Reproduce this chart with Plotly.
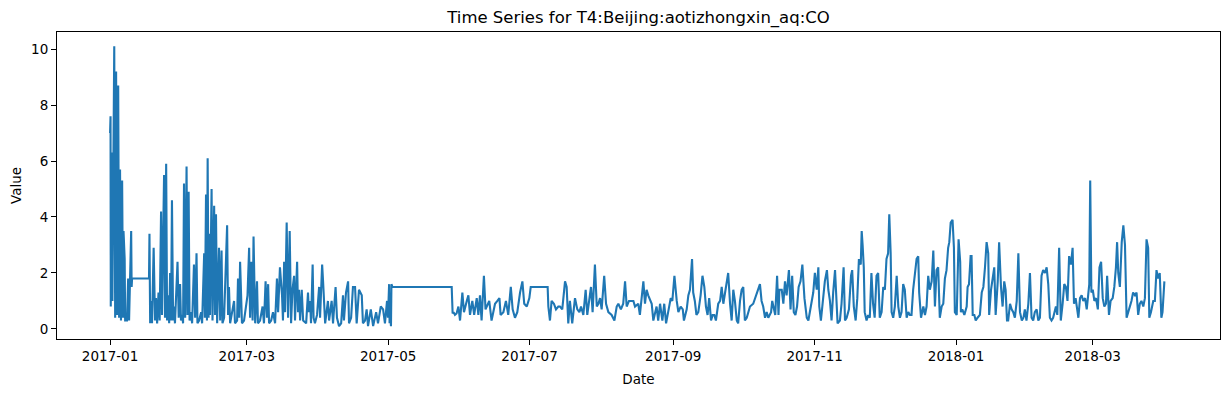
import pandas as pd
import plotly.graph_objects as go

# Hourly CO readings: day offset from 2017-01-01, value
start = pd.Timestamp("2017-01-01")

days_jan_feb = [0.0, 0.2, 0.3, 0.6, 1.0, 1.5, 1.8, 2.2, 2.6, 3.0, 3.5, 3.9, 4.3, 4.7, 5.2, 5.6, 5.8, 6.3, 6.5, 7.3,
                7.8, 8.2, 8.6, 9.1, 9.3, 9.5, 16.8, 17.0, 17.3, 17.7, 18.1, 18.8, 19.4, 19.8, 20.3, 20.9, 21.4, 22.0,
                22.4, 22.9, 23.3, 23.7, 24.2, 24.6, 25.0, 25.5, 25.9, 26.3, 26.7, 27.2, 27.6, 28.0, 29.1, 29.6, 30.2,
                30.6, 31.1, 31.5, 31.9, 32.4, 33.0, 33.4, 33.9, 34.3, 34.9, 35.4, 36.2, 36.7, 37.3, 37.7, 38.4, 39.3,
                39.7, 40.6, 40.9, 41.4, 41.8, 42.1, 42.5, 42.8, 43.1, 43.8, 44.2, 44.9, 45.3, 45.7, 46.2, 47.0, 47.5,
                48.1, 48.5, 49.2, 50.5, 50.9, 51.3, 51.8, 52.6, 53.5, 53.9, 54.8, 55.2, 55.7, 56.1, 56.5, 56.9, 57.8]
vals_jan_feb = [7.0, 7.6, 0.8, 6.3, 1.0, 8.8, 10.1, 0.4, 9.2, 0.5, 8.7, 0.4, 5.7, 0.3, 5.3, 0.4, 3.5, 2.5, 0.3, 0.3,
                1.8, 0.3, 1.8, 3.5, 1.5, 1.8, 1.8, 3.4, 0.2, 1.0, 0.2, 2.9, 0.3, 1.1, 0.2, 1.3, 0.3, 4.2,
                0.5, 4.4, 5.5, 0.4, 5.9, 0.3, 1.2, 0.2, 2.0, 0.3, 4.6, 0.3, 0.8, 0.2, 2.4, 0.4, 1.6,
                0.3, 0.5, 0.2, 5.2, 0.4, 5.8, 0.5, 4.9, 0.3, 0.6, 0.2, 2.3, 0.4, 2.7, 0.2, 0.3, 0.6,
                0.2, 2.7, 0.4, 4.8, 0.3, 6.1, 0.4, 3.4, 0.5, 5.0, 0.3, 4.4, 0.5, 4.1, 0.2, 2.9, 0.3,
                2.8, 0.2, 0.4, 3.7, 0.5, 1.5, 0.2, 0.6, 1.0, 0.2, 0.3, 1.8, 0.4, 2.4, 1.6, 0.2, 0.3]

days_mar_may = [59.3, 60.0, 60.4, 61.0, 61.5, 61.9, 62.6, 63.4, 63.8, 64.7, 65.8, 66.4, 67.1, 67.7, 68.2, 68.6, 69.5,
                70.3, 71.2, 72.0, 72.5, 73.3, 74.2, 74.6, 75.1, 75.5, 76.2, 76.8, 77.5, 78.1, 78.7, 79.4, 79.8, 80.7,
                81.1, 81.5, 82.0, 82.7, 83.3, 84.6, 85.4, 85.8, 86.3, 86.7, 87.4, 87.8, 88.4, 89.3, 90.2, 90.6, 91.5,
                91.9, 92.8, 94.0, 94.5, 95.6, 96.2, 97.3, 97.9, 98.8, 99.7, 100.5, 100.9, 101.8, 102.7, 103.1, 104.0,
                104.8, 105.7, 106.4, 107.4, 108.6, 109.1, 110.0, 110.7, 111.3, 112.5, 113.5, 114.8, 115.6, 116.8,
                117.8, 118.6, 119.5, 119.9, 120.4, 120.6, 120.8, 121.2, 121.4, 121.8, 147.4]
vals_mar_may = [1.2, 2.9, 0.4, 2.4, 0.3, 3.3, 0.2, 1.7, 0.2, 0.3, 0.8, 0.2, 1.7, 0.4, 1.6, 0.2, 0.3,
                0.6, 0.2, 1.8, 0.6, 2.2, 1.2, 0.3, 2.4, 0.6, 3.8, 0.4, 3.5, 0.2, 1.4, 1.9, 0.3, 2.4,
                0.6, 1.4, 0.3, 1.4, 0.3, 0.2, 1.3, 0.6, 1.0, 0.2, 2.3, 0.4, 0.2, 0.5, 1.5, 0.4, 2.3,
                1.7, 0.2, 1.0, 0.3, 1.0, 0.2, 1.5, 0.4, 0.1, 0.2, 1.2, 0.3, 1.3, 1.7, 0.2, 0.4,
                1.5, 1.5, 0.2, 1.4, 1.2, 0.2, 0.3, 0.7, 0.1, 0.7, 0.1, 0.6, 0.2, 0.8,
                0.7, 0.2, 1.0, 0.4, 1.6, 0.2, 0.7, 0.1, 1.6, 1.5, 1.5]

days_jun_aug = [147.8, 148.2, 148.8, 149.5, 150.3, 151.0, 152.0, 152.7, 153.9, 154.6, 155.3, 156.3, 157.1, 158.2,
                158.9, 159.6, 160.3, 161.3, 162.0, 163.6, 164.6, 166.1, 167.1, 168.0, 168.5, 169.7, 170.8, 171.8,
                172.9, 173.7, 174.7, 175.7, 176.9, 177.9, 178.7, 179.8, 180.9, 181.5, 188.8, 189.1, 189.8, 190.5,
                191.5, 192.4, 193.4, 194.1, 195.1, 196.3, 197.0, 197.7, 198.4, 199.4, 200.6, 201.6, 202.5, 203.2,
                204.2, 205.2, 205.9, 206.6, 207.5, 208.2, 209.2, 210.0, 210.7, 211.4, 212.1, 213.2, 214.0, 215.0,
                216.4, 217.6, 218.6, 219.3, 220.4, 221.4, 222.2, 222.9, 223.9, 224.8, 225.8, 226.5, 227.9, 228.6,
                229.4, 230.1, 230.8, 231.5, 232.2, 233.7, 234.4, 235.8, 236.5, 237.3, 238.3, 239.1, 239.9, 240.9,
                241.9, 242.6]
vals_jun_aug = [0.55, 0.6, 0.5, 0.55, 0.8, 0.3, 1.3, 0.6, 1.0, 1.2, 0.5, 1.0, 0.5, 1.1,
                0.5, 1.2, 0.3, 1.9, 0.7, 1.0, 0.3, 0.9, 1.0, 1.1, 0.5, 0.6, 1.0, 0.5,
                1.5, 0.7, 0.4, 0.6, 1.3, 1.7, 0.9, 0.8, 1.1, 1.5, 1.5, 0.8, 0.3, 1.0,
                0.9, 0.7, 0.8, 0.8, 0.7, 1.7, 1.5, 0.2, 1.0, 0.2, 1.1, 0.7, 0.6, 0.8,
                0.5, 1.4, 0.5, 1.0, 1.5, 0.6, 2.3, 0.8, 0.9, 1.1, 0.7, 1.9, 0.9, 0.6,
                0.5, 0.3, 0.8, 0.9, 0.7, 0.9, 1.7, 0.8, 1.0, 1.0, 1.0, 0.8, 0.9, 0.5,
                1.3, 1.7, 0.9, 1.4, 1.2, 0.9, 0.3, 0.8, 0.3, 0.9, 0.3, 0.9, 0.2, 0.6,
                1.1, 1.0]

days_sep_nov = [243.5, 244.5, 245.2, 246.2, 247.1, 247.6, 248.8, 249.5, 250.2, 251.1, 251.6, 252.3, 253.0, 253.8,
                254.8, 255.6, 256.4, 257.1, 257.8, 258.5, 259.3, 260.0, 260.7, 261.4, 262.4, 263.2, 263.9, 264.6,
                265.7, 266.7, 267.5, 268.2, 268.9, 269.6, 270.4, 271.0, 271.8, 272.5, 273.2, 273.9, 274.7, 276.1,
                277.5, 278.7, 279.7, 280.4, 281.1, 281.8, 282.6, 283.3, 284.0, 285.2, 285.7, 286.3, 287.0, 287.8,
                288.4, 288.8, 289.8, 290.5, 291.2, 291.9, 292.9, 293.6, 294.3, 295.0, 295.7, 296.4, 297.1, 297.9,
                298.7, 299.6, 300.6, 301.3, 302.0, 302.7, 303.4, 304.1, 304.9, 305.6, 306.0, 306.7, 307.7, 308.4,
                309.3, 309.9, 310.6, 311.3, 312.0, 312.8, 313.2, 313.9, 314.9, 315.6, 316.5, 317.1, 317.8, 318.8,
                319.7, 320.2, 320.9, 321.7, 322.4, 323.1, 323.9, 324.3, 324.7, 325.2, 325.6, 326.4, 327.1, 327.8,
                328.5, 329.2, 329.9, 330.7, 331.4, 332.1, 332.9, 333.6]
vals_sep_nov = [1.9, 1.0, 0.6, 0.8, 0.7, 0.3, 0.7, 1.2, 1.4, 2.5, 1.3, 1.0, 0.5, 0.6,
                1.2, 1.9, 1.5, 0.8, 0.5, 1.1, 0.3, 0.5, 0.5, 0.3, 0.9, 1.0, 1.5, 0.9,
                1.4, 2.0, 0.9, 0.3, 1.4, 1.0, 0.3, 0.2, 1.0, 1.4, 1.5, 0.3, 0.4, 0.8,
                0.9, 1.2, 1.5, 1.6, 1.0, 0.8, 0.4, 0.6, 0.4, 0.6, 1.0, 0.7, 0.5, 1.9,
                0.5, 1.4, 1.4, 0.9, 1.7, 1.2, 2.1, 0.7, 1.9, 0.6, 0.5, 0.8, 1.5, 1.7,
                2.3, 1.1, 0.4, 0.3, 0.6, 1.0, 1.3, 2.0, 1.4, 2.2, 0.8, 0.3, 1.0, 1.7,
                2.1, 1.4, 1.0, 0.3, 1.3, 2.1, 1.4, 0.2, 0.3, 0.9, 2.2, 0.3, 0.4, 0.7,
                1.9, 2.1, 0.8, 0.3, 1.1, 2.5, 2.3, 3.5, 3.0, 2.2, 0.6, 0.3, 0.5, 0.4,
                2.0, 0.9, 0.4, 1.9, 2.0, 0.4, 0.6, 1.5]

days_dec_mar = [334.3, 335.0, 335.7, 336.2, 336.8, 337.2, 337.9, 338.6, 339.4, 340.1, 340.8, 341.5, 342.2, 342.9,
                343.7, 344.4, 345.1, 345.8, 346.5, 347.3, 348.0, 348.7, 349.1, 349.9, 350.9, 351.6, 352.3, 353.0,
                353.7, 354.5, 355.2, 355.9, 356.6, 357.3, 358.0, 358.8, 359.5, 360.2, 360.9, 361.6, 362.1, 362.7,
                363.5, 364.1, 364.5, 365.3, 366.1, 366.8, 367.1, 367.7, 368.6, 369.6, 370.0, 370.6, 371.3, 371.7,
                372.2, 372.9, 373.5, 374.3, 375.3, 376.1, 376.8, 377.5, 378.2, 378.9, 379.3, 380.1, 380.6, 381.5,
                382.1, 383.0, 383.6, 384.4, 385.1, 385.8, 386.4, 387.0, 387.5, 388.3, 389.0, 389.7, 390.4, 391.2,
                391.9, 392.6, 393.4, 394.1, 394.7, 395.4, 396.2, 396.9, 397.6, 398.3, 399.0, 399.8, 400.5, 401.2,
                401.9, 402.6, 403.4, 404.1, 404.8, 405.5, 406.2, 406.9, 408.1, 408.7, 409.5, 410.2, 411.0, 411.7,
                412.4, 413.1, 413.8, 414.6, 415.3, 415.9, 416.6, 417.3, 417.8, 418.5, 419.2, 419.9, 420.7, 421.4,
                422.1, 422.5, 422.9, 423.4, 424.0, 424.7, 425.4, 426.2, 426.9, 427.6, 428.3, 429.0, 429.7, 430.2,
                431.0, 431.7, 432.6, 433.3, 434.0, 434.5, 435.0, 435.7, 436.5, 437.2, 437.9, 438.6, 439.3, 440.0,
                440.7, 441.4, 442.2, 442.9, 443.6, 444.3, 445.0, 445.8, 446.5, 447.2, 447.9, 448.4, 449.1, 450.1,
                450.8, 451.5, 452.2, 452.9, 453.6, 454.1, 454.5, 454.9]
vals_dec_mar = [1.4, 2.5, 2.7, 4.1, 2.7, 0.6, 0.4, 0.8, 1.9, 0.8, 0.4, 0.6, 1.6, 1.4,
                0.4, 0.6, 0.5, 0.5, 1.4, 2.0, 2.5, 2.6, 1.3, 0.4, 0.8, 0.5, 0.8, 1.9,
                1.4, 1.7, 2.8, 0.8, 2.1, 2.2, 0.4, 0.8, 0.9, 1.8, 2.1, 2.9, 3.1, 3.8,
                3.9, 2.9, 0.6, 0.5, 3.2, 2.4, 0.6, 0.7, 0.5, 0.8, 1.5, 1.6, 2.6, 2.6,
                0.5, 0.5, 0.3, 0.4, 0.5, 1.3, 1.5, 2.2, 3.1, 2.7, 0.5, 1.4, 1.7, 2.2,
                0.5, 1.7, 3.1, 1.5, 0.8, 1.7, 1.4, 0.3, 0.3, 0.9, 0.7, 0.6, 0.4, 1.0,
                2.7, 0.6, 0.3, 0.4, 0.7, 0.3, 0.9, 2.0, 0.4, 0.3, 0.6, 0.7, 0.3, 0.4,
                1.9, 2.1, 2.0, 2.2, 1.6, 0.4, 0.3, 0.4, 0.8, 0.5, 2.9, 0.3, 0.9, 1.6,
                1.5, 1.0, 2.6, 2.3, 2.9, 0.9, 1.1, 0.6, 0.4, 1.1, 1.2, 1.0, 1.1, 0.7,
                1.3, 1.6, 5.3, 1.3, 1.4, 1.0, 1.1, 0.7, 2.2, 2.4, 1.1, 0.8, 0.9, 1.9,
                0.5, 1.0, 1.1, 1.5, 2.2, 3.1, 2.0, 1.5, 3.1, 3.7, 3.0, 0.4, 0.6, 0.8,
                1.0, 1.3, 1.2, 1.3, 0.5, 0.9, 1.0, 0.8, 1.1, 3.2, 2.9, 0.4, 0.6, 1.0,
                1.0, 2.1, 1.8, 2.0, 0.4, 0.6, 1.1, 1.7]

tick_dates = ["2017-01-01", "2017-03-01", "2017-05-01", "2017-07-01", "2017-09-01",
              "2017-11-01", "2018-01-01", "2018-03-01"]
tick_text = ["2017-01", "2017-03", "2017-05", "2017-07", "2017-09", "2017-11", "2018-01", "2018-03"]
y_ticks = [0, 2, 4, 6, 8, 10]

days = days_jan_feb + days_mar_may + days_jun_aug + days_sep_nov + days_dec_mar
vals = vals_jan_feb + vals_mar_may + vals_jun_aug + vals_sep_nov + vals_dec_mar
times = start + pd.to_timedelta(days, unit="D")

fig = go.Figure()
fig.add_trace(go.Scatter(x=times, y=vals, mode="lines",
                         line=dict(color="#1f77b4", width=2.1), showlegend=False))

x_lo = start + pd.Timedelta(days=-22.9)
x_hi = start + pd.Timedelta(days=478.9)

axis_common = dict(showline=True, linecolor="black", linewidth=1, mirror=True,
                   ticks="outside", ticklen=5, tickwidth=1, tickcolor="black",
                   showgrid=False, zeroline=False, automargin=False,
                   tickfont=dict(family="DejaVu Sans", size=13.5, color="black"))

fig.update_layout(
    template="none",
    width=1229, height=393,
    margin=dict(l=57, r=9, t=32, b=54),
    paper_bgcolor="white", plot_bgcolor="white",
    font=dict(family="DejaVu Sans", size=13.5, color="black"),
    title=dict(text="Time Series for T4:Beijing:aotizhongxin_aq:CO", x=0.5, xref="paper",
               y=1 - 17 / 393, yanchor="middle", yref="container",
               font=dict(family="DejaVu Sans", size=16.5, color="black")),
    xaxis=dict(axis_common, range=[x_lo, x_hi], tickvals=pd.to_datetime(tick_dates), ticktext=tick_text,
               title=dict(text="Date", standoff=11, font=dict(family="DejaVu Sans", size=13.5))),
    yaxis=dict(axis_common, range=[-0.36, 10.61], tickvals=y_ticks,
               title=dict(text="Value", standoff=6, font=dict(family="DejaVu Sans", size=13.5))),
)

fig.write_html("out.html")
